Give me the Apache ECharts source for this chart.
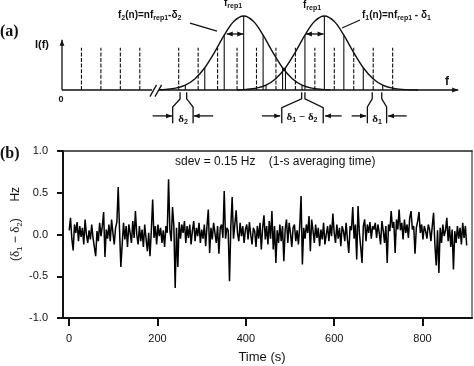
<!DOCTYPE html>
<html>
<head>
<meta charset="utf-8">
<script src="https://cdn.jsdelivr.net/npm/echarts@6/dist/echarts.min.js"></script>
<style>html,body{margin:0;padding:0;background:#fff}#c{width:474px;height:366px}</style>
</head>
<body>
<div id="c"></div>
<script>
// ---------- panel (b) data: (delta1 - delta2) in Hz, 1-s averages read every 3 s ----------
const dt = 3;
const noise = [
  0.05, 0.20,-0.05,-0.19, 0.12, 0.02, 0.15,-0.08, 0.10,-0.03,
  0.08,-0.12, 0.18, 0.00,-0.10, 0.05,-0.06, 0.12,-0.04,-0.15,
 -0.26, 0.04,-0.08, 0.14,-0.02, 0.10, 0.27,-0.27, 0.06,-0.05,
  0.12,-0.08, 0.18, 0.02,-0.12, 0.08, 0.15, 0.57, 0.05,-0.39,
 -0.12, 0.14,-0.06, 0.10,-0.15, 0.12, 0.02,-0.10, 0.16,-0.04,
  0.28, 0.00,-0.12, 0.10,-0.08, 0.06,-0.15, 0.12,-0.05,-0.20,
  0.02,-0.26, 0.05, 0.42,-0.04, 0.10,-0.12, 0.12,-0.02, 0.08,
 -0.10, 0.05,-0.15, 0.10, 0.02, 0.66, 0.05,-0.08, 0.33, 0.10,
 -0.64, 0.08,-0.39, 0.15,-0.05, 0.12, 0.02, 0.16,-0.10, 0.10,
 -0.04, 0.12,-0.12, 0.05, 0.16,-0.08, 0.08,-0.02, 0.14,-0.10,
  0.06,-0.05, 0.12,-0.14, 0.10, 0.30,-0.22, 0.08,-0.06, 0.14,
  0.02,-0.10, 0.10,-0.23, 0.08, 0.12,-0.04, 0.52,-0.05, 0.08,
  0.05,-0.56, 0.10, 0.45,-0.05, 0.12, 0.29, 0.02,-0.08, 0.14,
 -0.02, 0.10,-0.10, 0.06, 0.12,-0.06, 0.15, 0.00,-0.12, 0.08,
  0.04,-0.15, 0.10,-0.05, 0.14,-0.18, 0.08, 0.23,-0.06, 0.10,
 -0.12, 0.16,-0.05, 0.28,-0.18, 0.10,-0.34, 0.05,-0.10, 0.12,
 -0.08, 0.10,-0.32, 0.06, 0.18,-0.10, 0.14, 0.02,-0.15, 0.08,
  0.12,-0.08, 0.05,-0.12, 0.10, 0.46,-0.36, 0.08,-0.05, 0.12,
  0.02, 0.22,-0.20, 0.18, 0.05,-0.10, 0.12,-0.04, 0.08,-0.14,
  0.06,-0.06, 0.14,-0.12, 0.00, 0.10,-0.08, 0.12,-0.02, 0.25,
  0.02,-0.10, 0.12,-0.05, 0.08,-0.14, 0.10, 0.04,-0.08, 0.14,
 -0.06,-0.22, 0.10, 0.05, 0.33,-0.05, 0.12,-0.30, 0.34, 0.02,
 -0.15,-0.34, 0.10, 0.18,-0.08, 0.12, 0.02, 0.15,-0.05, 0.10,
  0.06, 0.14,-0.04, 0.12, 0.02,-0.12, 0.16, 0.05,-0.10, 0.10,
 -0.34, 0.12, 0.04, 0.28, 0.08, 0.15,-0.22, 0.18, 0.06, 0.30,
  0.05, 0.14,-0.06, 0.18, 0.02, 0.12,-0.04, 0.20, 0.28, 0.06,
  0.10,-0.23, 0.08, 0.16, 0.27, 0.02, 0.12,-0.06, 0.10, 0.04,
 -0.05, 0.12, 0.06,-0.08, 0.10, 0.26,-0.12,-0.37, 0.05,-0.46,
  0.08,-0.10, 0.12,-0.02, 0.05, 0.20,-0.08, 0.10,-0.15, 0.06,
 -0.42, 0.04,-0.10, 0.10,-0.05, 0.08,-0.12, 0.14,-0.04, 0.10,
 -0.13
];
const timeTicks = [0, 200, 400, 600, 800];
const hzTicks = [-1.0, -0.5, 0.0, 0.5, 1.0];

// ---------- panel (a) schematic data (frequency in units of comb index n) ----------
const refComb = [1, 2, 3, 4, 6, 7, 8, 9, 10, 11, 12, 13, 14, 15, 16, 17];
const refHeight = [0.57];
const comb2 = [[6.34,0.067],[7.34,0.30],[8.34,0.74],[9.34,1.0],[10.34,0.74],[11.34,0.30],[12.34,0.067]];
const comb1 = [[10.49,0.067],[11.49,0.30],[12.49,0.74],[13.49,1.0],[14.49,0.74],[15.49,0.30],[16.49,0.067]];
const envelope2 = [[4.99,0.003],[5.34,0.008],[5.84,0.025],[6.34,0.067],[6.84,0.153],[7.34,0.301],[7.84,0.509],[8.34,0.741],[8.84,0.928],[9.34,1],
  [9.84,0.928],[10.34,0.741],[10.84,0.509],[11.34,0.301],[11.84,0.153],[12.34,0.067],[12.84,0.025],[13.34,0.008],[13.8,0.002]];
const envelope1 = [[9.0,0.002],[9.49,0.008],[9.99,0.025],[10.49,0.067],[10.99,0.153],[11.49,0.301],[11.99,0.509],[12.49,0.741],[12.99,0.928],[13.49,1],
  [13.99,0.928],[14.49,0.741],[14.99,0.509],[15.49,0.301],[15.99,0.153],[16.49,0.067],[16.99,0.025],[17.49,0.008],[18.3,0.0]];

// annotation polylines [points, arrowAtEnd, arrowAtStart]
const annotations = [
  [[[0,0],[4.63,0]], false, false],
  [[[4.99,0],[20.37,0]], true, false],
  [[[0,0],[0,0.68]], true, false],
  [[[4.52,-0.09],[4.86,0.07]], false, false],
  [[[4.78,-0.09],[5.12,0.07]], false, false],
  // delta2 bracket
  [[[6.07,-0.03],[6.07,-0.12],[5.69,-0.23],[5.69,-0.45]], false, false],
  [[[6.41,-0.03],[6.41,-0.12],[6.74,-0.23],[6.74,-0.45]], false, false],
  [[[4.66,-0.35],[5.66,-0.35]], true, false],
  [[[7.77,-0.35],[6.77,-0.35]], true, false],
  // delta1 - delta2 bracket
  [[[12.32,-0.03],[12.32,-0.12],[11.30,-0.24],[11.30,-0.45]], false, false],
  [[[12.49,-0.03],[12.49,-0.12],[13.43,-0.24],[13.43,-0.45]], false, false],
  [[[10.28,-0.35],[11.22,-0.35]], true, false],
  [[[14.38,-0.35],[13.52,-0.35]], true, false],
  // delta1 bracket
  [[[15.95,-0.03],[15.95,-0.12],[15.70,-0.23],[15.70,-0.45]], false, false],
  [[[16.44,-0.03],[16.44,-0.12],[16.69,-0.23],[16.69,-0.45]], false, false],
  [[[14.89,-0.35],[15.63,-0.35]], true, false],
  [[[17.72,-0.35],[16.76,-0.35]], true, false],
  // leader lines
  [[[6.58,0.905],[7.97,0.797]], false, false],
  [[[14.40,0.838],[15.32,0.946]], false, false],
  // f_rep1 spacing arrows
  [[[8.47,0.757],[9.32,0.757]], true, true],
  [[[12.54,0.757],[13.45,0.757]], true, true]
];

const SANS = '"Liberation Sans", Arial, Helvetica, sans-serif';
const SERIF = '"Liberation Serif", "Times New Roman", serif';

function combItem(dash) {
  return function (params, api) {
    const x = api.value(0), h = api.value(1);
    const p0 = api.coord([x, 0]), p1 = api.coord([x, h]);
    return { type: 'line', shape: { x1: p0[0], y1: p0[1], x2: p1[0], y2: p1[1] },
      style: { stroke: '#111', lineWidth: 1.1, lineDash: dash ? [4, 1.6] : null } };
  };
}
function arrowHead(tip, from) {
  const dx = tip[0] - from[0], dy = tip[1] - from[1];
  const L = Math.sqrt(dx*dx + dy*dy) || 1, ux = dx / L, uy = dy / L;
  const len = 6, w = 2.4;
  const bx = tip[0] - ux*len, by = tip[1] - uy*len;
  return { type: 'polygon', shape: { points: [tip, [bx - uy*w, by + ux*w], [bx + uy*w, by - ux*w]] },
    style: { fill: '#111' } };
}
function annotItem(params, api) {
  const a = annotations[params.dataIndex];
  const pts = a[0].map(p => api.coord(p));
  const children = [{ type: 'polyline', shape: { points: pts }, style: { stroke: '#111', lineWidth: 1.3, fill: null } }];
  if (a[1]) children.push(arrowHead(pts[pts.length-1], pts[pts.length-2]));
  if (a[2]) children.push(arrowHead(pts[0], pts[1]));
  return { type: 'group', children };
}

const richLab = {
  m: { fontFamily: SANS, fontWeight: 'bold', fontSize: 10, lineHeight: 14, verticalAlign: 'middle', fill: '#111' },
  s: { fontFamily: SANS, fontWeight: 'bold', fontSize: 7, lineHeight: 7, verticalAlign: 'bottom', fill: '#111' },
  d: { fontFamily: SERIF, fontWeight: 'bold', fontSize: 11, lineHeight: 14, verticalAlign: 'middle', fill: '#111' }
};
function txt(text, x, y, opts) {
  return Object.assign({ type: 'text', x: x, y: y, silent: true, style: Object.assign({
    text: text, fill: '#111', font: 'bold 10px ' + SANS, align: 'left', verticalAlign: 'middle', rich: richLab }, opts || {}) });
}

const chart = echarts.init(document.getElementById('c'), null, { renderer: 'canvas' });
chart.setOption({
  animation: false,
  backgroundColor: '#fff',
  grid: [
    { left: 62, top: 1.2, width: 21 * 19.45, height: 148, show: false },
    { left: 63, top: 151, width: 409, height: 167, show: false }
  ],
  xAxis: [
    { gridIndex: 0, type: 'value', min: 0, max: 21, show: false },
    { gridIndex: 1, type: 'value', min: -14, max: 912,
      axisLine: { show: true, onZero: false, lineStyle: { color: '#111', width: 2 } },
      axisTick: { show: true, length: 8, customValues: timeTicks, lineStyle: { color: '#111', width: 2 } },
      axisLabel: { customValues: timeTicks, margin: 15, color: '#111', fontSize: 11, fontFamily: SANS },
      splitLine: { show: false },
      name: 'Time (s)', nameLocation: 'middle', nameGap: 33,
      nameTextStyle: { color: '#111', fontSize: 13, fontFamily: SANS, padding: [0, 11, 0, 0] } },
    { gridIndex: 1, type: 'value', min: -14, max: 912, position: 'top',
      axisLine: { show: true, onZero: false, lineStyle: { color: '#222', width: 1.5 } },
      axisTick: { show: false }, axisLabel: { show: false }, splitLine: { show: false } }
  ],
  yAxis: [
    { gridIndex: 0, type: 'value', min: -0.8, max: 1.2, show: false },
    { gridIndex: 1, type: 'value', min: -1, max: 1, interval: 0.5,
      axisLine: { show: true, onZero: false, lineStyle: { color: '#111', width: 2 } },
      axisTick: { show: true, length: 6, lineStyle: { color: '#111', width: 2 } },
      axisLabel: { margin: 15, color: '#111', fontSize: 11, fontFamily: SANS, formatter: v => v.toFixed(1) },
      splitLine: { show: false } },
    { gridIndex: 1, type: 'value', min: -1, max: 1, position: 'right',
      axisLine: { show: true, onZero: false, lineStyle: { color: '#8a8a8a', width: 2 } },
      axisTick: { show: false }, axisLabel: { show: false }, splitLine: { show: false } }
  ],
  series: [
    { type: 'custom', xAxisIndex: 0, yAxisIndex: 0, renderItem: combItem(true), clip: false,
      data: refComb.map(n => [n, refHeight[0]]), silent: true },
    { type: 'custom', xAxisIndex: 0, yAxisIndex: 0, renderItem: combItem(false), clip: false,
      data: comb2, silent: true },
    { type: 'custom', xAxisIndex: 0, yAxisIndex: 0, renderItem: combItem(false), clip: false,
      data: comb1, silent: true },
    { type: 'line', xAxisIndex: 0, yAxisIndex: 0, data: envelope2, smooth: 0.35, symbol: 'none',
      lineStyle: { color: '#111', width: 1.4 }, silent: true },
    { type: 'line', xAxisIndex: 0, yAxisIndex: 0, data: envelope1, smooth: 0.35, symbol: 'none',
      lineStyle: { color: '#111', width: 1.4 }, silent: true },
    { type: 'custom', xAxisIndex: 0, yAxisIndex: 0, renderItem: annotItem, clip: false,
      data: annotations.map(a => a[0][0]), silent: true },
    { type: 'line', xAxisIndex: 1, yAxisIndex: 1, symbol: 'none',
      data: noise.map((v, i) => [i * dt, v]),
      lineStyle: { color: '#000', width: 1.5 }, silent: true }
  ],
  graphic: [
    txt('(a)', 0, 32, { font: 'bold 16px ' + SERIF }),
    txt('I(f)', 42, 45, { font: 'bold 11px ' + SANS, align: 'center' }),
    txt('0', 61, 100, { font: 'bold 9px ' + SANS, align: 'center' }),
    txt('f', 447, 82, { font: 'bold 12px ' + SANS, align: 'center' }),
    txt('{m|f}{s|2}{m|(n)=nf}{s|rep1}{m|-δ}{s|2}', 118, 15),
    txt('{m|f}{s|rep1}', 224, 3),
    txt('{m|f}{s|rep1}', 303, 5),
    txt('{m|f}{s|1}{m|(n)=nf}{s|rep1}{m| - δ}{s|1}', 362, 15),
    txt('{d|δ}{s|2}', 183, 119, { align: 'center' }),
    txt('{d|δ}{s|1}{d| − δ}{s|2}', 302, 117, { align: 'center' }),
    txt('{d|δ}{s|1}', 377, 119, { align: 'center' }),
    txt('(b)', 0, 154, { font: 'bold 16px ' + SERIF }),
    txt('sdev = 0.15 Hz    (1-s averaging time)', 175, 162, { font: '12px ' + SANS }),
    { type: 'text', x: 16, y: 224, rotation: Math.PI / 2, silent: true,
      style: { text: '{p|(}{d|δ}{s|1}{p| − }{d|δ}{s|2}{p|)}{p|     Hz}', align: 'center', verticalAlign: 'middle',
        rich: {
          p: { fontFamily: SANS, fontSize: 12, lineHeight: 16, verticalAlign: 'middle', fill: '#111' },
          d: { fontFamily: SERIF, fontSize: 13, lineHeight: 16, verticalAlign: 'middle', fill: '#111' },
          s: { fontFamily: SANS, fontSize: 8, lineHeight: 8, verticalAlign: 'bottom', fill: '#111' }
        } } }
  ]
});
</script>
</body>
</html>
